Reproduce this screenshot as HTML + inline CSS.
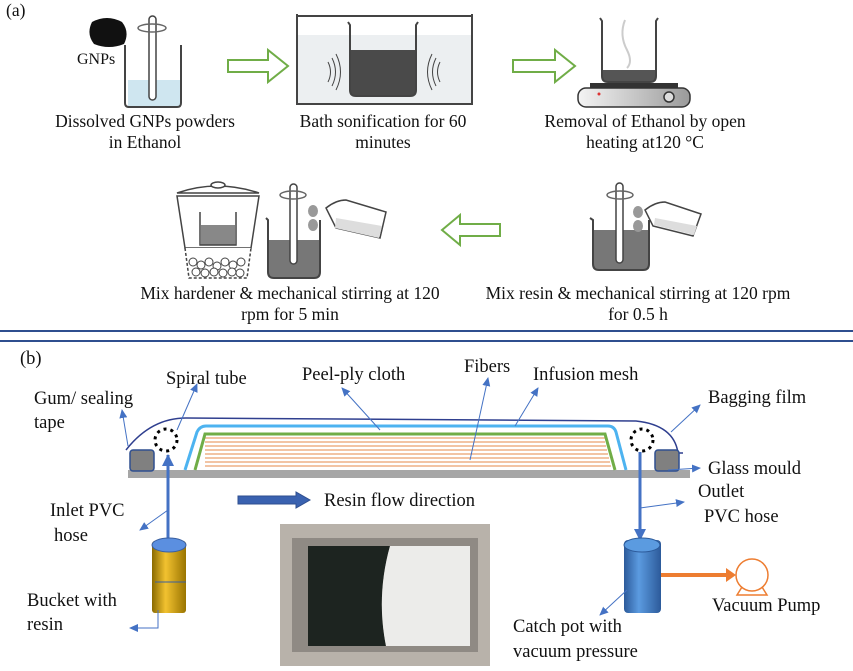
<!DOCTYPE html>
<html><head><meta charset="utf-8"><style>
html,body{margin:0;padding:0;background:#fff;}
svg{display:block;font-family:"Liberation Serif",serif;}
</style></head><body>
<svg width="853" height="671" viewBox="0 0 853 671" xmlns="http://www.w3.org/2000/svg">
<defs>
<marker id="ab" markerUnits="userSpaceOnUse" markerWidth="10" markerHeight="10" refX="8" refY="5" orient="auto"><path d="M0,1 L9,5 L0,9 z" fill="#4472c4"/></marker>
<marker id="abig" markerUnits="userSpaceOnUse" markerWidth="14" markerHeight="14" refX="11" refY="7" orient="auto"><path d="M0,1 L12,7 L0,13 z" fill="#4472c4"/></marker>
<linearGradient id="gold" x1="0" x2="1"><stop offset="0" stop-color="#8a6a00"/><stop offset="0.4" stop-color="#f2c230"/><stop offset="1" stop-color="#9a7400"/></linearGradient>
<linearGradient id="blu" x1="0" x2="1"><stop offset="0" stop-color="#2c5a9a"/><stop offset="0.4" stop-color="#5b9be0"/><stop offset="1" stop-color="#2c5a9a"/></linearGradient>
<linearGradient id="plate" x1="0" x2="1"><stop offset="0" stop-color="#f4f4f4"/><stop offset="1" stop-color="#9a9a9a"/></linearGradient>
</defs>
<g font-size="17.5" fill="#111">
<text x="6" y="16">(a)</text>
<path d="M92,22 q15,-8 30,0 q8,10 2,22 q-15,6 -30,0 q-8,-10 -2,-22z" fill="#111"/>
<text x="77" y="64" font-size="16">GNPs</text>
<rect x="128" y="80" width="52" height="26" fill="#cfe6f0"/>
<path d="M125,45 v58 q0,4 4,4 h48 q4,0 4,-4 v-58" fill="none" stroke="#444" stroke-width="2"/>
<rect x="149" y="16" width="7" height="84" rx="3.5" fill="#fff" stroke="#444" stroke-width="1.5"/>
<ellipse cx="152" cy="28" rx="14" ry="4" fill="none" stroke="#666" stroke-width="1.5"/>
<text x="145" y="127" text-anchor="middle">Dissolved GNPs powders</text>
<text x="145" y="148" text-anchor="middle">in Ethanol</text>
<path d="M228,60 h40 v-10 l20,16 l-20,16 v-10 h-40 z" fill="#fff" stroke="#70ad47" stroke-width="2"/>
<rect x="297" y="35" width="175" height="69" fill="#eceff1"/>
<path d="M297,14 v90 h175 v-90" fill="none" stroke="#444" stroke-width="2"/>
<line x1="297" y1="16" x2="472" y2="16" stroke="#444" stroke-width="2"/>
<path d="M350,50 h66 v40 q0,6 -6,6 h-54 q-6,0 -6,-6z" fill="#4a4a4a"/>
<path d="M348,22 l2,3 v65 q0,6 6,6 h54 q6,0 6,-6 v-65 l2,-3" fill="none" stroke="#444" stroke-width="2"/>
<g fill="none" stroke="#444" stroke-width="1"><path d="M328,62 q5,10 0,20 M332,58 q7,14 0,28 M336,54 q9,18 0,36"/><path d="M440,62 q-5,10 0,20 M436,58 q-7,14 0,28 M432,54 q-9,18 0,36"/></g>
<text x="383" y="127" text-anchor="middle">Bath sonification for 60</text>
<text x="383" y="148" text-anchor="middle">minutes</text>
<path d="M513,60 h42 v-10 l20,16 l-20,16 v-10 h-42 z" fill="#fff" stroke="#70ad47" stroke-width="2"/>
<path d="M602,70 h54 v6 q0,6 -6,6 h-42 q-6,0 -6,-6z" fill="#555"/>
<path d="M600,18 l2,3 v55 q0,6 6,6 h42 q6,0 6,-6 v-55 l2,-3" fill="none" stroke="#444" stroke-width="2"/>
<path d="M625,20 q-6,15 2,30 q6,12 0,18" fill="none" stroke="#ccc" stroke-width="2"/>
<rect x="590" y="83" width="88" height="5" fill="#333"/>
<rect x="578" y="88" width="112" height="19" rx="8" fill="url(#plate)" stroke="#333" stroke-width="1.5"/>
<circle cx="599" cy="94" r="1.5" fill="#d33"/>
<circle cx="669" cy="97" r="5" fill="#ddd" stroke="#333" stroke-width="1.5"/>
<text x="645" y="127" text-anchor="middle">Removal of Ethanol by open</text>
<text x="645" y="148" text-anchor="middle">heating at120 °C</text>
<path d="M593,230 h56 v34 q0,6 -6,6 h-44 q-6,0 -6,-6z" fill="#777"/>
<path d="M590,218 l3,2 v44 q0,6 6,6 h44 q6,0 6,-6 v-44" fill="none" stroke="#444" stroke-width="2"/>
<rect x="616" y="183" width="7" height="80" rx="3.5" fill="#fff" stroke="#444" stroke-width="1.5"/>
<ellipse cx="620" cy="195" rx="13" ry="4" fill="none" stroke="#666" stroke-width="1.5"/>
<ellipse cx="638" cy="212" rx="5" ry="6" fill="#999"/><ellipse cx="638" cy="226" rx="5" ry="6" fill="#999"/>
<path d="M645,210 q10,-8 20,-8 l36,12 l-8,22 l-40,-10 z" fill="#fff" stroke="#444" stroke-width="1.5"/>
<path d="M655,218 l42,8 l-3,9 l-40,-10z" fill="#ddd"/>
<text x="638" y="299" text-anchor="middle">Mix resin &amp; mechanical stirring at 120 rpm</text>
<text x="638" y="320" text-anchor="middle">for 0.5 h</text>
<path d="M500,224 h-40 v-9 l-18,15 l18,15 v-9 h40 z" fill="#fff" stroke="#70ad47" stroke-width="2"/>
<path d="M177,193 q40,-14 82,0 z" fill="#fff" stroke="#444" stroke-width="1.5"/>
<ellipse cx="218" cy="185" rx="7" ry="3" fill="#fff" stroke="#444" stroke-width="1.5"/>
<path d="M177,196 l8,52 h66 l8,-52z" fill="#fff" stroke="#444" stroke-width="1.5"/>
<path d="M185,248 l4,30 h58 l4,-30" fill="#fff" stroke="#444" stroke-width="1.5" stroke-dasharray="3,2"/>
<g fill="#fff" stroke="#444" stroke-width="1"><circle cx="193" cy="262" r="4"/><circle cx="201" cy="265" r="4"/><circle cx="209" cy="262" r="4"/><circle cx="217" cy="266" r="4"/><circle cx="225" cy="262" r="4"/><circle cx="233" cy="265" r="4"/><circle cx="241" cy="262" r="4"/><circle cx="196" cy="272" r="4"/><circle cx="205" cy="273" r="4"/><circle cx="214" cy="272" r="4"/><circle cx="223" cy="273" r="4"/><circle cx="232" cy="272" r="4"/><circle cx="240" cy="273" r="4"/></g>
<rect x="201" y="225" width="34" height="20" fill="#888"/>
<path d="M200,212 v33 h36 v-33" fill="none" stroke="#444" stroke-width="1.5"/>
<path d="M268,240 h52 v32 q0,6 -6,6 h-40 q-6,0 -6,-6z" fill="#777"/>
<path d="M266,218 l2,2 v52 q0,6 6,6 h40 q6,0 6,-6 v-52" fill="none" stroke="#444" stroke-width="2"/>
<rect x="290" y="184" width="7" height="80" rx="3.5" fill="#fff" stroke="#444" stroke-width="1.5"/>
<ellipse cx="293" cy="195" rx="13" ry="4" fill="none" stroke="#666" stroke-width="1.5"/>
<ellipse cx="313" cy="211" rx="5" ry="6" fill="#999"/><ellipse cx="313" cy="225" rx="5" ry="6" fill="#999"/>
<path d="M326,208 q10,-8 20,-8 l40,12 l-6,26 l-44,-10 z" fill="#fff" stroke="#444" stroke-width="1.5"/>
<path d="M336,218 l46,8 l-3,12 l-44,-10z" fill="#ddd"/>
<text x="290" y="299" text-anchor="middle">Mix hardener &amp; mechanical stirring at 120</text>
<text x="290" y="320" text-anchor="middle">rpm for 5 min</text>
<line x1="0" y1="331" x2="853" y2="331" stroke="#2f4f8f" stroke-width="2"/>
<line x1="0" y1="341" x2="853" y2="341" stroke="#2f4f8f" stroke-width="2"/>
</g>
<g font-size="18.5" fill="#111">
<text x="20" y="364">(b)</text>
<rect x="128" y="470" width="562" height="8" fill="#a6a6a6"/>
<g stroke="#e4894a" stroke-width="1">
<line x1="205" y1="438" x2="605" y2="438"/><line x1="205" y1="442" x2="605" y2="442"/><line x1="205" y1="446" x2="606" y2="446"/><line x1="205" y1="450" x2="607" y2="450"/><line x1="205" y1="454" x2="608" y2="454"/><line x1="205" y1="458" x2="609" y2="458"/><line x1="205" y1="462" x2="610" y2="462"/><line x1="205" y1="466" x2="611" y2="466"/></g>
<path d="M195,470 l10,-36 h400 l10,36" fill="none" stroke="#70ad47" stroke-width="3"/>
<path d="M185,470 l12,-38 q3,-6 9,-6 h402 q6,0 8,6 l10,38" fill="none" stroke="#4db3f0" stroke-width="3"/>
<path d="M126,450 q25,-32 60,-32 l450,3 q38,4 42,32 h5" fill="none" stroke="#2f3f8f" stroke-width="1.5"/>
<rect x="130" y="450" width="24" height="21" rx="3" fill="#808080" stroke="#2f4f8f" stroke-width="1.5"/>
<rect x="655" y="450" width="24" height="21" rx="3" fill="#808080" stroke="#2f4f8f" stroke-width="1.5"/>
<circle cx="166" cy="440" r="11" fill="none" stroke="#000" stroke-width="3" stroke-dasharray="3,4"/>
<circle cx="642" cy="440" r="11" fill="none" stroke="#000" stroke-width="3" stroke-dasharray="3,4"/>
<line x1="168" y1="540" x2="168" y2="455" stroke="#4472c4" stroke-width="3" marker-end="url(#abig)"/>
<line x1="640" y1="452" x2="640" y2="540" stroke="#4472c4" stroke-width="3" marker-end="url(#abig)"/>
<rect x="152" y="541" width="34" height="72" rx="3" fill="url(#gold)"/>
<ellipse cx="169" cy="545" rx="17" ry="7" fill="#5b8fe0" stroke="#3a5fa0"/>
<line x1="155" y1="582" x2="186" y2="582" stroke="#3a5fa0"/>
<path d="M158,610 v18 h-28" fill="none" stroke="#4472c4" stroke-width="1" marker-end="url(#ab)"/>
<rect x="624" y="540" width="37" height="73" rx="4" fill="url(#blu)"/>
<ellipse cx="642" cy="545" rx="18" ry="7" fill="#5b9be0" stroke="#2c5a9a"/>
<line x1="661" y1="575" x2="728" y2="575" stroke="#ed7d31" stroke-width="4"/>
<path d="M726,568 l10,7 l-10,7z" fill="#ed7d31"/>
<circle cx="752" cy="575" r="16" fill="#fff" stroke="#ed7d31" stroke-width="1.5"/>
<path d="M742,587 l-5,8 h30 l-5,-8" fill="none" stroke="#ed7d31" stroke-width="1.5"/>
<path d="M238,496 h58 v-4 l14,8 l-14,8 v-4 h-58z" fill="#3a62b0" stroke="#2f4f8f"/>
<text x="324" y="506">Resin flow direction</text>
<rect x="280" y="524" width="210" height="142" fill="#b8b2aa"/>
<rect x="292" y="538" width="186" height="114" fill="#8f8a84"/>
<path d="M308,546 h82 q-14,50 -4,100 h-78z" fill="#1d2420"/>
<path d="M390,546 h80 v100 h-84 q-10,-50 4,-100z" fill="#ececea"/>
<g stroke="#4472c4" stroke-width="1" fill="none" marker-end="url(#ab)">
<line x1="128" y1="446" x2="122" y2="410"/>
<line x1="177" y1="430" x2="197" y2="384"/>
<line x1="380" y1="430" x2="342" y2="388"/>
<line x1="470" y1="460" x2="488" y2="378"/>
<line x1="515" y1="426" x2="538" y2="388"/>
<line x1="671" y1="432" x2="700" y2="405"/>
<line x1="668" y1="470" x2="700" y2="468"/>
<line x1="168" y1="510" x2="140" y2="530"/>
<line x1="640" y1="508" x2="684" y2="502"/>
<line x1="627" y1="590" x2="600" y2="615"/>
</g>
<text x="166" y="384">Spiral tube</text>
<text x="34" y="404">Gum/ sealing</text>
<text x="34" y="428">tape</text>
<text x="302" y="380">Peel-ply cloth</text>
<text x="464" y="372">Fibers</text>
<text x="533" y="380">Infusion mesh</text>
<text x="708" y="403">Bagging film</text>
<text x="708" y="474">Glass mould</text>
<text x="50" y="516">Inlet PVC</text>
<text x="54" y="541">hose</text>
<text x="27" y="606">Bucket with</text>
<text x="27" y="630">resin</text>
<text x="698" y="497">Outlet</text>
<text x="704" y="522">PVC hose</text>
<text x="712" y="611">Vacuum Pump</text>
<text x="513" y="632">Catch pot with</text>
<text x="513" y="657">vacuum pressure</text>
</g>
</svg>
</body></html>
